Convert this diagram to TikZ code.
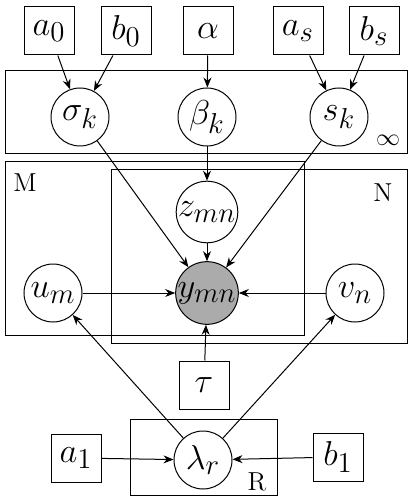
\documentclass[tikz,border=0pt]{standalone}
\usetikzlibrary{arrows.meta}
\tikzset{
  param/.style={draw, line width=0.5pt, minimum width=25pt, minimum height=24pt, inner sep=0pt, font=\fontsize{19}{22}\selectfont},
  latent/.style={draw, circle, line width=0.5pt, fill=white, minimum size=29pt, inner sep=0pt, font=\fontsize{19}{22}\selectfont},
  observed/.style={latent, fill=black!33},
  plate/.style={draw, line width=0.5pt},
  platelabel/.style={font=\fontsize{13}{15}\selectfont, inner sep=0pt},
  edge/.style={-{Stealth[length=5pt,width=4pt]}, line width=0.5pt}
}
\begin{document}
\begin{tikzpicture}[x=0.5pt, y=-0.5pt]
    \useasboundingbox (0,0) rectangle (415,502);
    % plates
    \draw[plate] (5,71) rectangle (407,154);% infinity plate
    \draw[plate] (5,162) rectangle (304,335);% M plate
    \draw[plate] (111,170) rectangle (407,343);% N plate
    \draw[plate] (130,419) rectangle (277,495);% R plate
    \node[platelabel] (inf) at (388,140) {$\infty$};
    \node[platelabel] (labm) at (25,183) {M};
    \node[platelabel] (labn) at (383,193) {N};
    \node[platelabel] (labr) at (257,482) {R};
    % hyperparameters
    \node[param] (a0) at (49,31) {$a_0$};
    \node[param] (b0) at (126,31) {$b_0$};
    \node[param] (alpha) at (208,31) {$\alpha$};
    \node[param] (as) at (298,31) {$a_s$};
    \node[param] (bs) at (374,31) {$b_s$};
    \node[param] (tau) at (204,385) {$\tau$};
    \node[param] (a1) at (76,458) {$a_1$};
    \node[param] (b1) at (338,457) {$b_1$};
    % variables
    \node[latent] (sigma) at (80,117) {$\sigma_k$};
    \node[latent] (beta) at (207,117) {$\beta_k$};
    \node[latent] (s) at (339,117) {$s_k$};
    \node[latent] (z) at (207,212) {$z_{mn}$};
    \node[observed] (y) at (207,293) {$y_{mn}$};
    \node[latent] (u) at (53,293) {$u_m$};
    \node[latent] (v) at (355,293) {$v_n$};
    \node[latent] (lambda) at (203,460) {$\lambda_r$};
    % edges
    \draw[edge] (a0) -- (sigma);
    \draw[edge] (b0) -- (sigma);
    \draw[edge] (alpha) -- (beta);
    \draw[edge] (as) -- (s);
    \draw[edge] (bs) -- (s);
    \draw[edge] (sigma) -- (y);
    \draw[edge] (beta) -- (z);
    \draw[edge] (s) -- (y);
    \draw[edge] (z) -- (y);
    \draw[edge] (u) -- (y);
    \draw[edge] (v) -- (y);
    \draw[edge] (tau) -- (y);
    \draw[edge] (lambda) -- (u);
    \draw[edge] (lambda) -- (v);
    \draw[edge] (a1) -- (lambda);
    \draw[edge] (b1) -- (lambda);
\end{tikzpicture}
\end{document}
